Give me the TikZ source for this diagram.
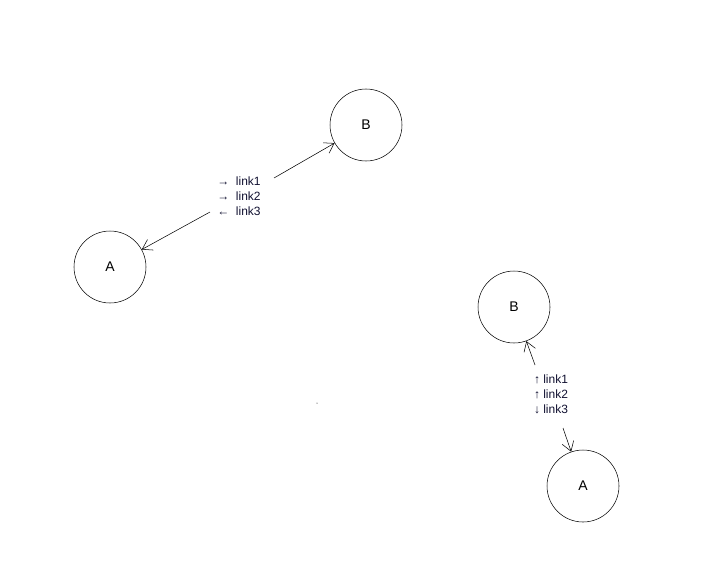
\documentclass[tikz,border=0pt]{standalone}
\usepackage{fontspec}
\setmainfont{Liberation Sans}
\usetikzlibrary{arrows.meta}
\definecolor{txt}{HTML}{101030}
\begin{document}
\begin{tikzpicture}[x=0.75pt,y=-0.75pt,
  vtx/.style={draw,circle,minimum size=54pt,inner sep=0pt,font=\fontsize{10.5pt}{12pt}\selectfont},
  lnk/.style={-{Straight Barb[length=7pt,width=9pt]}},
  lbl/.style={align=left,font=\fontsize{9pt}{11.2pt}\selectfont,text=txt,inner sep=0pt}]
\useasboundingbox (0,0) rectangle (717,568);
\node[vtx] (A1) at (110,267) {A};
\node[vtx] (B1) at (366,125) {B};
\node[vtx] (B2) at (514,307) {B};
\node[vtx] (A2) at (583,486) {A};
\node[lbl] (L1) at (239,196) {→\ \ link1\\→\ \ link2\\←\ \ link3};
\node[lbl] (L2) at (551,394) {↑ link1\\↑ link2\\↓ link3};
\coordinate (p1) at (274,178);
\coordinate (p2) at (210,212);
\coordinate (q1) at (535,365);
\coordinate (q2) at (563,428);
\draw[lnk] (p1) -- (B1);
\draw[lnk] (p2) -- (A1);
\draw[lnk] (q1) -- (B2);
\draw[lnk] (q2) -- (A2);
\fill (317,403) circle (0.5);
\end{tikzpicture}
\end{document}
